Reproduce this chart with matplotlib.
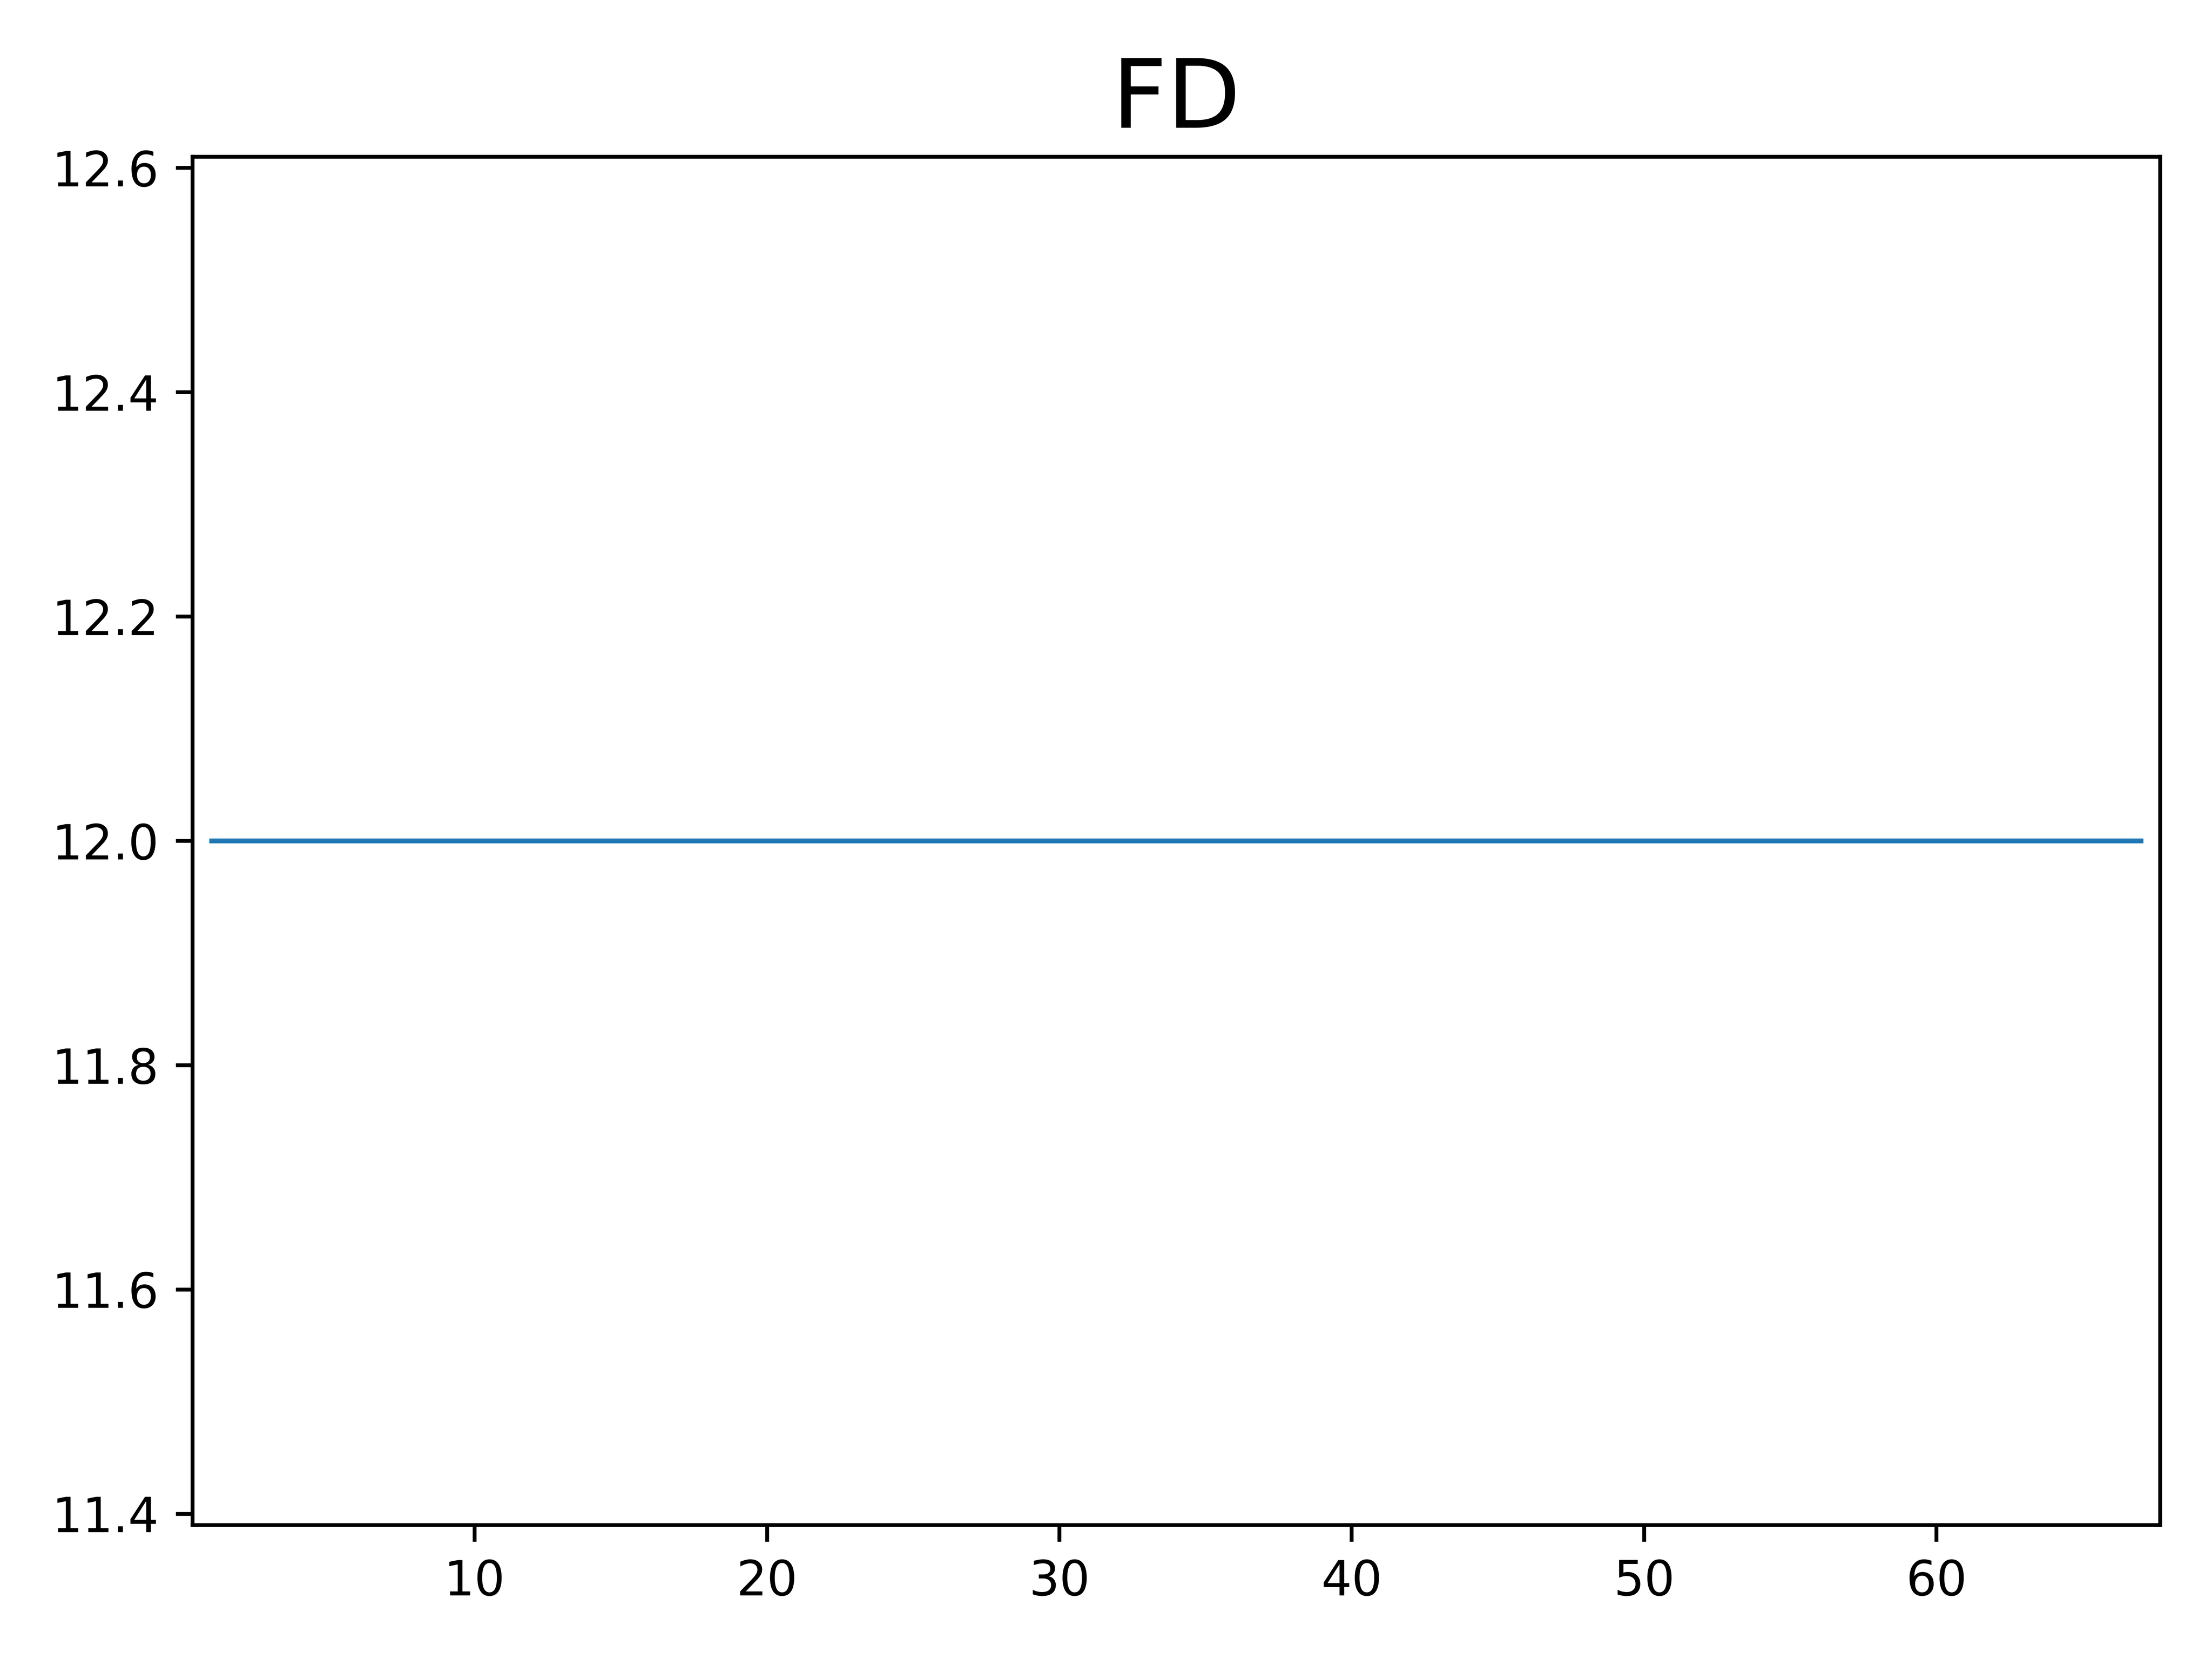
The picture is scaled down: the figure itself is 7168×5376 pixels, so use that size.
import matplotlib
matplotlib.use("Agg")
import matplotlib.pyplot as plt
import numpy as np

# Data
steps = np.arange(1, 68)
fd_values = [12.0] * len(steps)

fig, ax = plt.subplots(figsize=(6.4, 4.8))
ax.plot(steps, fd_values, color='#1f77b4', linewidth=1.0)

ax.set_title('FD', fontsize=20)
ax.set_xlim(0.35, 67.65)
ax.set_ylim(11.39, 12.61)
ax.set_xticks([10, 20, 30, 40, 50, 60])
ax.set_yticks([11.4, 11.6, 11.8, 12.0, 12.2, 12.4, 12.6])

plt.tight_layout()
plt.savefig('out.png', dpi=1120)
